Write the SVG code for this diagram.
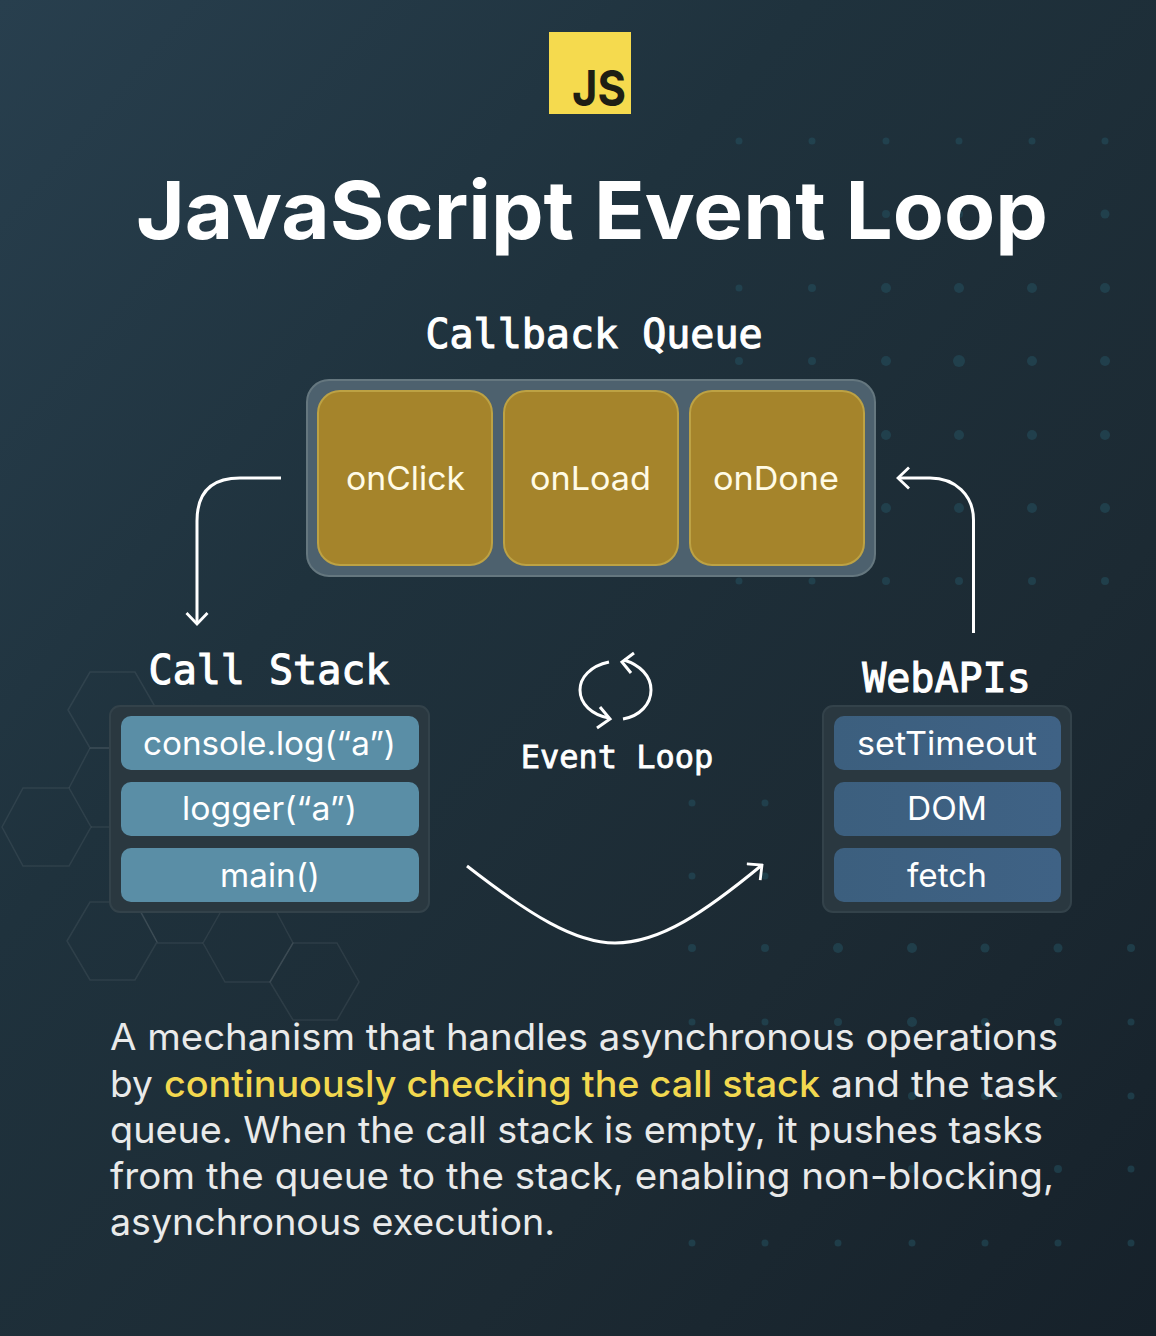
<svg xmlns="http://www.w3.org/2000/svg" width="1156" height="1336" viewBox="0 0 1156 1336">
<defs>
<linearGradient id="bg" x1="0" y1="0" x2="1" y2="1"><stop offset="0" stop-color="#283f4e"/><stop offset="0.35" stop-color="#1f323d"/><stop offset="0.7" stop-color="#1c2a33"/><stop offset="1" stop-color="#16212a"/></linearGradient>
<linearGradient id="blue" x1="0" y1="0" x2="1" y2="0"><stop offset="0" stop-color="#3c5f7e"/><stop offset="1" stop-color="#3f6285"/></linearGradient>
<marker id="arrow" viewBox="-12 -12 14 24" markerWidth="14" markerHeight="24" refX="0" refY="0" orient="auto" markerUnits="userSpaceOnUse"><path d="M-11,-10.5 L0,0 L-11,10.5" fill="none" stroke="#fff" stroke-width="2.8"/></marker>
</defs>
<style>
.mono{font-family:"DejaVu Sans Mono","Liberation Mono",monospace;font-weight:400;fill:#fff;stroke:#fff;stroke-width:1.1;text-anchor:middle}
.outer{fill:#2a3840;stroke:#33424a;stroke-width:2}
.item{font-family:"Inter","Noto Sans",sans-serif;font-size:33px;fill:#fff;text-anchor:middle}
.gold{fill:#a5842b;stroke:#bda244;stroke-width:2}
.cream{fill:#fffbe6}
.cs{fill:#5a8ea6}
.web{fill:url(#blue)}
.para{font-family:"Inter","Noto Sans",sans-serif;font-size:37px;fill:#e9eaea}
.conn{fill:none;stroke:#fff;stroke-width:3;marker-end:url(#arrow)}
.icon{fill:none;stroke:#fff;stroke-width:3}
.hex{fill:none;stroke:#fff;stroke-opacity:.07;stroke-width:1.5}
.dot{fill:#24505f;fill-opacity:.55}
</style>
<rect width="1156" height="1336" fill="url(#bg)"/>
<g id="hexagons" class="hex">
<path d="M68,710 L90,672 L135,672 L157,710 L135,748 L90,748 Z"/>
<path d="M2,827 L23,788 L69,788 L91,827 L69,866 L23,866 Z"/>
<path d="M67,941 L90,902 L135,902 L157,942 L135,980 L90,980 Z"/>
<path d="M203,943 L225,982 L270,982 L293,943 L277,913 M203,943 L220,913"/>
<path d="M270,982 L293,943 L337,943 L359,982 L337,1020 L293,1020 Z"/>
<path d="M157,943 L203,943 M90,748 L69,788 M91,827 L110,827 M90,748 L110,748 M140,910 L157,942"/>
</g>
<g id="dots" class="dot">
<circle cx="739" cy="141" r="3.5"/><circle cx="812" cy="141" r="3.5"/><circle cx="886" cy="141" r="3.5"/><circle cx="959" cy="141" r="3.5"/><circle cx="1032" cy="141" r="3.5"/><circle cx="1105" cy="141" r="3.5"/>
<circle cx="886" cy="214" r="4"/><circle cx="959" cy="214" r="4"/><circle cx="1105" cy="214" r="4.5"/>
<circle cx="739" cy="288" r="3.5"/><circle cx="812" cy="288" r="4"/><circle cx="886" cy="288" r="5"/><circle cx="959" cy="288" r="5"/><circle cx="1032" cy="288" r="5"/><circle cx="1105" cy="288" r="5"/>
<circle cx="739" cy="361" r="4"/><circle cx="812" cy="361" r="4"/><circle cx="886" cy="361" r="5"/><circle cx="959" cy="361" r="6"/><circle cx="1032" cy="361" r="5"/><circle cx="1105" cy="361" r="5"/>
<circle cx="886" cy="435" r="5"/><circle cx="959" cy="435" r="5"/><circle cx="1032" cy="435" r="5"/><circle cx="1105" cy="435" r="5"/>
<circle cx="886" cy="508" r="5"/><circle cx="959" cy="508" r="5"/><circle cx="1032" cy="508" r="5"/><circle cx="1105" cy="508" r="5"/>
<circle cx="739" cy="581" r="3.5"/><circle cx="812" cy="581" r="3.5"/><circle cx="886" cy="581" r="4"/><circle cx="959" cy="581" r="4"/><circle cx="1032" cy="581" r="4"/><circle cx="1105" cy="581" r="4"/>
<circle cx="692" cy="803" r="3.5"/><circle cx="765" cy="803" r="3.5"/><circle cx="692" cy="876" r="3.5"/><circle cx="765" cy="876" r="3.5"/>
<circle cx="692" cy="948" r="4"/><circle cx="765" cy="948" r="4"/><circle cx="838" cy="948" r="5"/><circle cx="912" cy="948" r="5"/><circle cx="985" cy="948" r="4.5"/><circle cx="1058" cy="948" r="4.5"/><circle cx="1131" cy="948" r="4"/>
<circle cx="692" cy="1022" r="3.5"/><circle cx="765" cy="1022" r="3.5"/><circle cx="838" cy="1022" r="4"/><circle cx="912" cy="1022" r="5"/><circle cx="985" cy="1022" r="4"/><circle cx="1058" cy="1022" r="4"/><circle cx="1131" cy="1022" r="3.5"/>
<circle cx="912" cy="1096" r="4"/><circle cx="985" cy="1096" r="4"/><circle cx="1058" cy="1096" r="4"/><circle cx="1131" cy="1096" r="3.5"/>
<circle cx="912" cy="1169" r="4"/><circle cx="1058" cy="1169" r="4"/><circle cx="1131" cy="1169" r="3.5"/>
<circle cx="692" cy="1243" r="3.5"/><circle cx="765" cy="1243" r="3.5"/><circle cx="838" cy="1243" r="3.5"/><circle cx="912" cy="1243" r="3.5"/><circle cx="985" cy="1243" r="3.5"/><circle cx="1058" cy="1243" r="3.5"/><circle cx="1131" cy="1243" r="3.5"/>
</g>
<g id="logo"><rect x="549" y="32" width="82" height="82" fill="#f5da4e"/><text x="572" y="106" font-family="Inter,'Noto Sans',sans-serif" font-weight="700" font-size="50" fill="#1e1e14" textLength="54" lengthAdjust="spacingAndGlyphs">JS</text></g>
<text id="title" x="592" y="239" font-family="Inter,'Noto Sans',sans-serif" font-weight="700" font-size="80" fill="#fff" text-anchor="middle" textLength="912" lengthAdjust="spacingAndGlyphs">JavaScript Event Loop</text>
<g id="callback-queue">
<text class="mono" x="594" y="348" font-size="40">Callback Queue</text>
<rect x="307" y="380" width="568" height="196" rx="22" fill="#4d616e" stroke="#65777f" stroke-width="2"/>
<g id="onclick"><rect class="gold" x="318" y="391" width="174" height="174" rx="22"/><text class="item cream" x="405.500" y="490" textLength="119" lengthAdjust="spacingAndGlyphs">onClick</text></g>
<g id="onload"><rect class="gold" x="504" y="391" width="174" height="174" rx="22"/><text class="item cream" x="590.500" y="490" textLength="121" lengthAdjust="spacingAndGlyphs">onLoad</text></g>
<g id="ondone"><rect class="gold" x="690" y="391" width="174" height="174" rx="22"/><text class="item cream" x="776" y="490" textLength="126" lengthAdjust="spacingAndGlyphs">onDone</text></g>
</g>
<g id="call-stack">
<text class="mono" x="269" y="684" font-size="40">Call Stack</text>
<rect class="outer" x="110" y="706" width="319" height="206" rx="10"/>
<g id="console-log"><rect class="cs" x="121" y="716" width="298" height="54" rx="10"/><text class="item" x="269.500" y="755" textLength="253" lengthAdjust="spacingAndGlyphs">console.log(“a”)</text></g>
<g id="logger"><rect class="cs" x="121" y="782" width="298" height="54" rx="10"/><text class="item" x="269.500" y="820" textLength="175" lengthAdjust="spacingAndGlyphs">logger(“a”)</text></g>
<g id="main"><rect class="cs" x="121" y="848" width="298" height="54" rx="10"/><text class="item" x="270" y="887" textLength="100" lengthAdjust="spacingAndGlyphs">main()</text></g>
</g>
<g id="web-apis">
<text class="mono" x="946.500" y="692" font-size="40">WebAPIs</text>
<rect class="outer" x="823" y="706" width="248" height="206" rx="10"/>
<g id="settimeout"><rect class="web" x="834" y="716" width="227" height="54" rx="10"/><text class="item" x="947" y="755" textLength="180" lengthAdjust="spacingAndGlyphs">setTimeout</text></g>
<g id="dom"><rect class="web" x="834" y="782" width="227" height="54" rx="10"/><text class="item" x="947" y="820" textLength="80" lengthAdjust="spacingAndGlyphs">DOM</text></g>
<g id="fetch"><rect class="web" x="834" y="848" width="227" height="54" rx="10"/><text class="item" x="947" y="887" textLength="80" lengthAdjust="spacingAndGlyphs">fetch</text></g>
</g>
<g id="event-loop">
<path class="icon" d="M609,662 C590,666 580,678 580,690 C580,704 592,715 609,718"/>
<path class="icon" d="M600,707 L610,719 L597,728"/>
<path class="icon" d="M623,719 C640,716 651,704 651,690 C651,676 640,665 624,660"/>
<path class="icon" d="M634,653 L622,662 L631,673"/>
<text class="mono" x="617" y="768" font-size="32" style="stroke-width:.8">Event Loop</text>
</g>
<g id="connectors">
<path class="conn" d="M281,478 L240,478 Q197,478 197,521 L197,624"/>
<path class="conn" d="M973.500,633 L973.500,520 C973.500,495 955,478 930,478 L898,478"/>
<path class="conn" d="M467,866 C530,915 575,943 615,943 C660,943 705,912 762,865"/>
</g>
<g id="description" class="para">
<text x="110" y="1050" textLength="948" lengthAdjust="spacingAndGlyphs">A mechanism that handles asynchronous operations</text>
<text x="110" y="1097">by</text>
<text x="164" y="1097" font-weight="500" style="fill:#f2d84f" textLength="656" lengthAdjust="spacingAndGlyphs">continuously checking the call stack</text>
<text x="831" y="1097" textLength="227" lengthAdjust="spacingAndGlyphs">and the task</text>
<text x="110" y="1143" textLength="933" lengthAdjust="spacingAndGlyphs">queue. When the call stack is empty, it pushes tasks</text>
<text x="110" y="1189" textLength="944" lengthAdjust="spacingAndGlyphs">from the queue to the stack, enabling non-blocking,</text>
<text x="110" y="1235" textLength="445" lengthAdjust="spacingAndGlyphs">asynchronous execution.</text>
</g>
</svg>
